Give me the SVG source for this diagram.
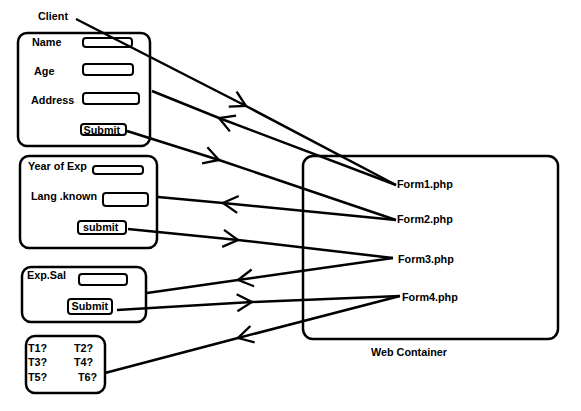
<svg xmlns="http://www.w3.org/2000/svg" width="581" height="411" viewBox="0 0 581 411">
<style>
text{font-family:"Liberation Sans",Arial,sans-serif;font-weight:bold;font-size:10.8px;fill:#000}
.box{fill:none;stroke:#000;stroke-width:2.5}
.inp{fill:none;stroke:#000;stroke-width:2}
.con{fill:none;stroke:#000;stroke-width:2.5;marker-mid:url(#chev)}
</style>
<defs>
<marker id="chev" markerUnits="userSpaceOnUse" viewBox="-18 -11 20 22" refX="0" refY="0" markerWidth="20" markerHeight="22" orient="auto">
<path d="M-15,-8.5 L0,0 L-15,8.5" fill="none" stroke="#000" stroke-width="2.3"/>
</marker>
</defs>
<rect width="581" height="411" fill="#fff"/>
<g id="connectors">
<path class="con" d="M76,19 L246,106 L396,185"/>
<path class="con" d="M396,185 L219,118 L152,91"/>
<path class="con" d="M127,131 L219,160 L396,220"/>
<path class="con" d="M396,220 L223,203 L158,197"/>
<path class="con" d="M128,229 L238,240 L393,258"/>
<path class="con" d="M393,258 L238,280 L147,293"/>
<path class="con" d="M117,310 L252,302 L400,296"/>
<path class="con" d="M400,296 L238,338 L105,373"/>
</g>
<g id="client">
<text x="38" y="20">Client</text>
</g>
<g id="form-personal">
<rect class="box" x="18" y="33" width="132" height="113" rx="9"/>
<text x="32" y="46">Name</text>
<rect class="inp" x="83" y="38" width="49" height="9" rx="3"/>
<text x="34" y="75">Age</text>
<rect class="inp" x="83" y="64" width="50" height="11" rx="3"/>
<text x="31" y="104">Address</text>
<rect class="inp" x="83" y="93" width="56" height="11" rx="3"/>
<rect class="inp" x="81" y="124" width="45" height="11" rx="3"/>
<text x="83.5" y="133.5">Submit</text>
</g>
<g id="form-experience">
<rect class="box" x="20" y="156" width="137" height="92" rx="9"/>
<text x="28" y="170">Year of Exp</text>
<rect class="inp" x="93" y="166" width="50" height="8" rx="3"/>
<text x="31" y="200">Lang .known</text>
<rect class="inp" x="103" y="193" width="45" height="13" rx="3"/>
<rect class="inp" x="78" y="221" width="48" height="13" rx="3"/>
<text x="83" y="231">submit</text>
</g>
<g id="form-salary">
<rect class="box" x="22" y="267" width="124" height="55" rx="9"/>
<text x="27" y="279">Exp.Sal</text>
<rect class="inp" x="79" y="274" width="48" height="11" rx="3"/>
<rect class="inp" x="68" y="299" width="44" height="15" rx="3"/>
<text x="71.5" y="310">Submit</text>
</g>
<g id="form-questions">
<rect class="box" x="26" y="336" width="79" height="57" rx="9"/>
<text x="28" y="352">T1?</text>
<text x="74" y="352">T2?</text>
<text x="28" y="366">T3?</text>
<text x="74" y="366">T4?</text>
<text x="28" y="381">T5?</text>
<text x="78" y="381">T6?</text>
</g>
<g id="web-container">
<rect class="box" x="303" y="156" width="255" height="183" rx="10"/>
<text x="371" y="356">Web Container</text>
</g>
<g id="form1"><text x="397" y="188">Form1.php</text></g>
<g id="form2"><text x="397" y="223">Form2.php</text></g>
<g id="form3"><text x="398" y="263">Form3.php</text></g>
<g id="form4"><text x="402" y="301">Form4.php</text></g>
</svg>
